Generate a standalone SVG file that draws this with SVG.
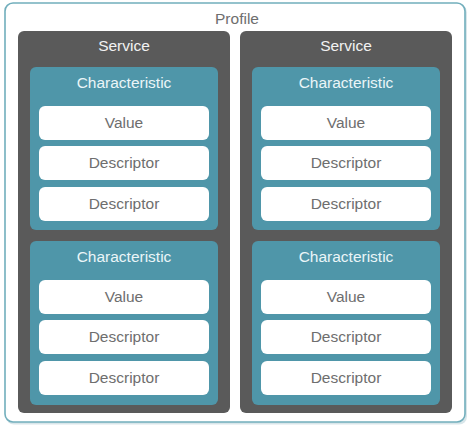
<svg xmlns="http://www.w3.org/2000/svg" width="474" height="426" viewBox="0 0 474 426">
<style>
text{font-family:"Liberation Sans",Arial,sans-serif;font-size:15.5px;text-anchor:middle;dominant-baseline:central}
.svc{fill:#5a5a5a}
.chr{fill:#4f96a9}
.val{fill:#ffffff}
.tsvc{fill:#f2f2f2}
.tchr{fill:#eaf5f8}
.tval{fill:#6e6e6e}
</style>
<g id="profile">
<rect x="6" y="4.5" width="461" height="420" rx="8" fill="#d9e6ea"/>
<rect x="5" y="3" width="460" height="419" rx="8" fill="#ffffff" stroke="#71aebc" stroke-width="1.6"/>
<text x="237" y="18" fill="#6e6e6e">Profile</text>
</g>
<g id="service1">
<rect class="svc" x="18" y="31" width="212" height="382" rx="6"/>
<text class="tsvc" x="124" y="45">Service</text>
</g>
<g id="char1a">
<rect class="chr" x="30" y="67" width="188" height="163" rx="6"/>
<text class="tchr" x="124" y="82">Characteristic</text>
</g>
<g id="val1a"><rect class="val" x="39" y="106" width="170" height="34" rx="6"/><text class="tval" x="124" y="122">Value</text></g>
<g id="desc1a1"><rect class="val" x="39" y="146" width="170" height="34" rx="6"/><text class="tval" x="124" y="162">Descriptor</text></g>
<g id="desc1a2"><rect class="val" x="39" y="187" width="170" height="34" rx="6"/><text class="tval" x="124" y="203">Descriptor</text></g>
<g id="char1b">
<rect class="chr" x="30" y="241" width="188" height="164" rx="6"/>
<text class="tchr" x="124" y="256">Characteristic</text>
</g>
<g id="val1b"><rect class="val" x="39" y="280" width="170" height="34" rx="6"/><text class="tval" x="124" y="296">Value</text></g>
<g id="desc1b1"><rect class="val" x="39" y="320" width="170" height="34" rx="6"/><text class="tval" x="124" y="336">Descriptor</text></g>
<g id="desc1b2"><rect class="val" x="39" y="361" width="170" height="34" rx="6"/><text class="tval" x="124" y="377">Descriptor</text></g>
<g id="service2">
<rect class="svc" x="240" y="31" width="212" height="382" rx="6"/>
<text class="tsvc" x="346" y="45">Service</text>
</g>
<g id="char2a">
<rect class="chr" x="252" y="67" width="188" height="163" rx="6"/>
<text class="tchr" x="346" y="82">Characteristic</text>
</g>
<g id="val2a"><rect class="val" x="261" y="106" width="170" height="34" rx="6"/><text class="tval" x="346" y="122">Value</text></g>
<g id="desc2a1"><rect class="val" x="261" y="146" width="170" height="34" rx="6"/><text class="tval" x="346" y="162">Descriptor</text></g>
<g id="desc2a2"><rect class="val" x="261" y="187" width="170" height="34" rx="6"/><text class="tval" x="346" y="203">Descriptor</text></g>
<g id="char2b">
<rect class="chr" x="252" y="241" width="188" height="164" rx="6"/>
<text class="tchr" x="346" y="256">Characteristic</text>
</g>
<g id="val2b"><rect class="val" x="261" y="280" width="170" height="34" rx="6"/><text class="tval" x="346" y="296">Value</text></g>
<g id="desc2b1"><rect class="val" x="261" y="320" width="170" height="34" rx="6"/><text class="tval" x="346" y="336">Descriptor</text></g>
<g id="desc2b2"><rect class="val" x="261" y="361" width="170" height="34" rx="6"/><text class="tval" x="346" y="377">Descriptor</text></g>
<g id="connectors"/>
</svg>
